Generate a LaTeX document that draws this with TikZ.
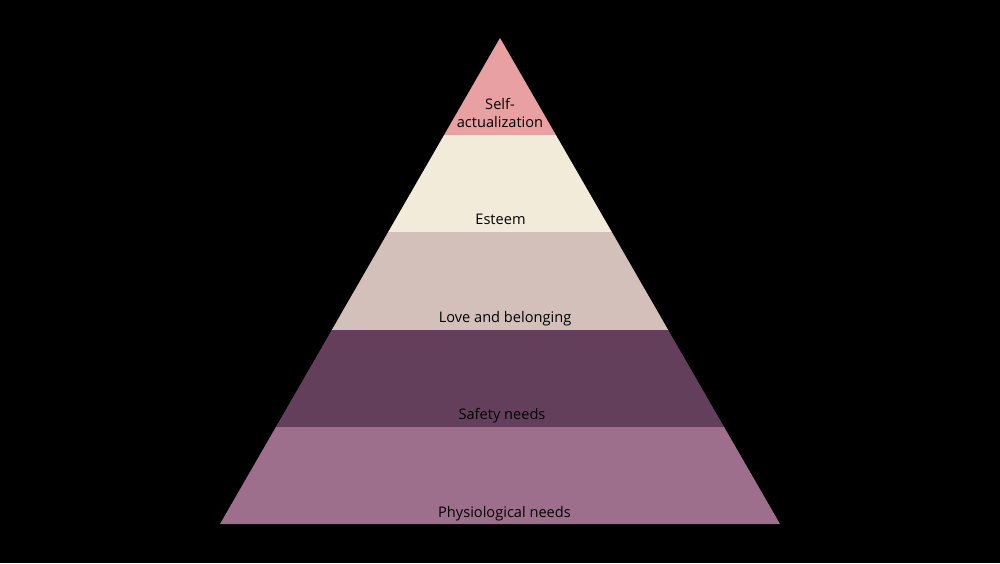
\documentclass[tikz,border=0pt]{standalone}
\usepackage{fontspec}
\setmainfont{Open Sans}
\definecolor{cTop}{HTML}{E8A0A2}
\definecolor{cEst}{HTML}{F2EBDA}
\definecolor{cLove}{HTML}{D3C0BB}
\definecolor{cSafe}{HTML}{633F5C}
\definecolor{cPhys}{HTML}{9E6F8C}
\begin{document}
\begin{tikzpicture}[x=1pt,y=-1pt,
  lbl/.style={font=\fontsize{14.6}{18.4}\selectfont, text=black, align=center, inner sep=0pt, anchor=base}]
\fill[black] (0,0) rectangle (1000,563);
\useasboundingbox (0,0) rectangle (1000,563);
\fill[cTop]  (500,38) -- (555.9,135) -- (444.1,135) -- cycle;
\fill[cEst]  (444.1,135) -- (555.9,135) -- (611.8,232) -- (388.2,232) -- cycle;
\fill[cLove] (388.2,232) -- (611.8,232) -- (668.2,330) -- (331.8,330) -- cycle;
\fill[cSafe] (331.8,330) -- (668.2,330) -- (724.1,427) -- (275.9,427) -- cycle;
\fill[cPhys] (275.9,427) -- (724.1,427) -- (780,524) -- (220,524) -- cycle;
\node[lbl] (self) at (500,127.5) {Self-\\actualization};
\node[lbl] (esteem) at (500.5,224.7) {Esteem};
\node[lbl] (love) at (505,322.7) {Love and belonging};
\node[lbl] (safety) at (502,419.7) {Safety needs};
\node[lbl] (phys) at (504.5,517) {Physiological needs};
\end{tikzpicture}
\end{document}
